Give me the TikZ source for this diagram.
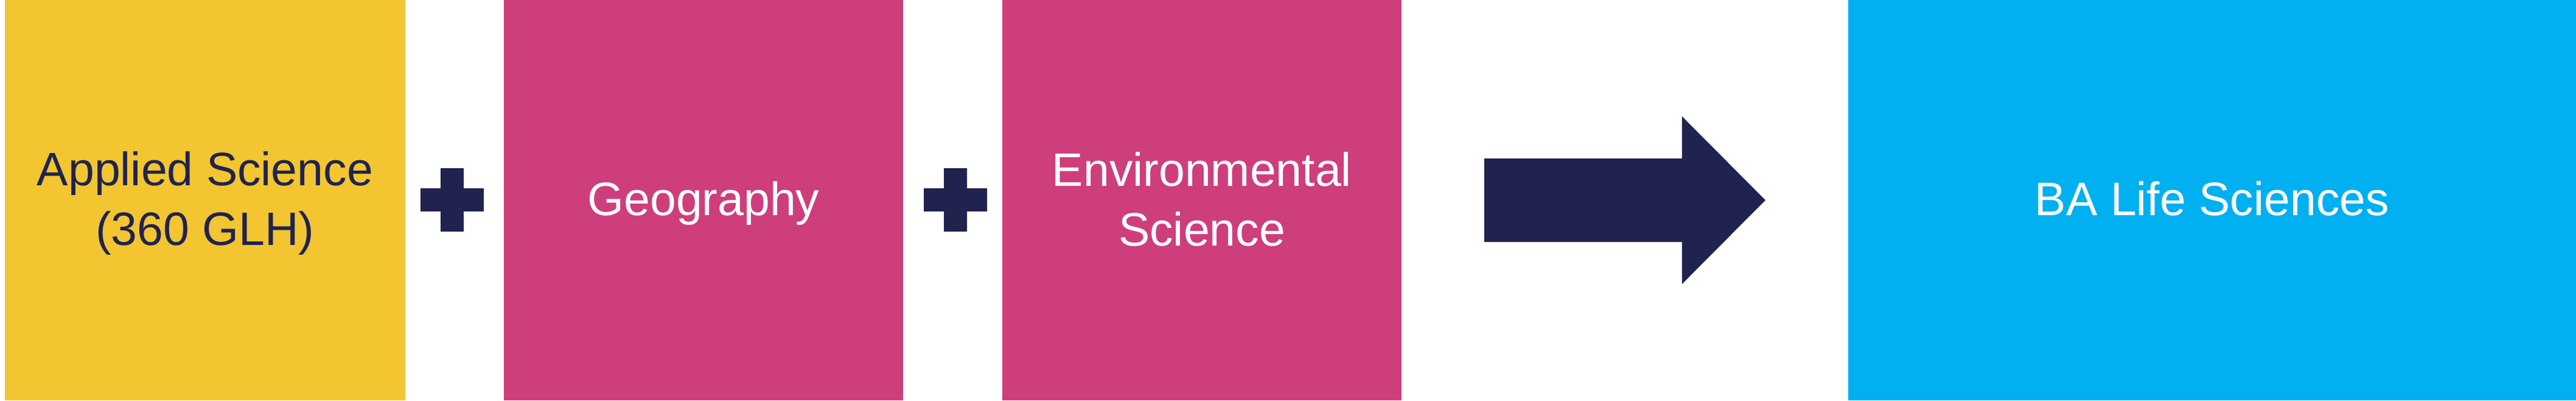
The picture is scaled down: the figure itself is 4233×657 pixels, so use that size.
\documentclass[tikz,border=0pt]{standalone}
\usepackage{fontspec}
\setmainfont{Liberation Sans}
\definecolor{sunyellow}{HTML}{F2C531}
\definecolor{rosepink}{HTML}{CE3E7C}
\definecolor{deepnavy}{HTML}{20234F}
\definecolor{skyblue}{HTML}{00B0F0}
\tikzset{
  blockbox/.style={rectangle, draw=none, inner sep=0pt, minimum height=657pt},
  lbl/.style={inner sep=0pt, align=center, font=\fontsize{77}{98}\selectfont},
  plussign/.pic={
    \fill[deepnavy] (-52,-19) rectangle (52,19);
    \fill[deepnavy] (-19,-52) rectangle (19,52);
  }
}
\begin{document}
\begin{tikzpicture}[x=1pt,y=-1pt]
\useasboundingbox (0,0) rectangle (4233,657);
% boxes
\node[blockbox, fill=sunyellow, minimum width=658pt] (applied) at (337,328.5) {};
\node[blockbox, fill=rosepink, minimum width=656pt] (geo) at (1156,328.5) {};
\node[blockbox, fill=rosepink, minimum width=656pt] (env) at (1975,328.5) {};
\node[blockbox, fill=skyblue, minimum width=1196pt] (ba) at (3635,328.5) {};
% texts
\node[lbl, text=deepnavy] (appliedtxt) at (337,334) {Applied Science\\(360 GLH)};
\node[lbl, text=white] (geotxt) at (1156,333.5) {Geography};
\node[lbl, text=white] (envtxt) at (1975,326.5) {Environmental\\Science};
\node[lbl, text=white] (batxt) at (3635,326) {BA Life Sciences};
% plus signs
\pic at (743,328) {plussign};
\pic at (1570,328) {plussign};
% block arrow
\coordinate (arrowtail) at (2439,328.5);
\coordinate (arrowtip) at (2901,328.5);
\fill[deepnavy] (2439,260) -- (2764,260) -- (2764,191) -- (arrowtip) -- (2764,466) -- (2764,397) -- (2439,397) -- cycle;
\end{tikzpicture}
\end{document}
